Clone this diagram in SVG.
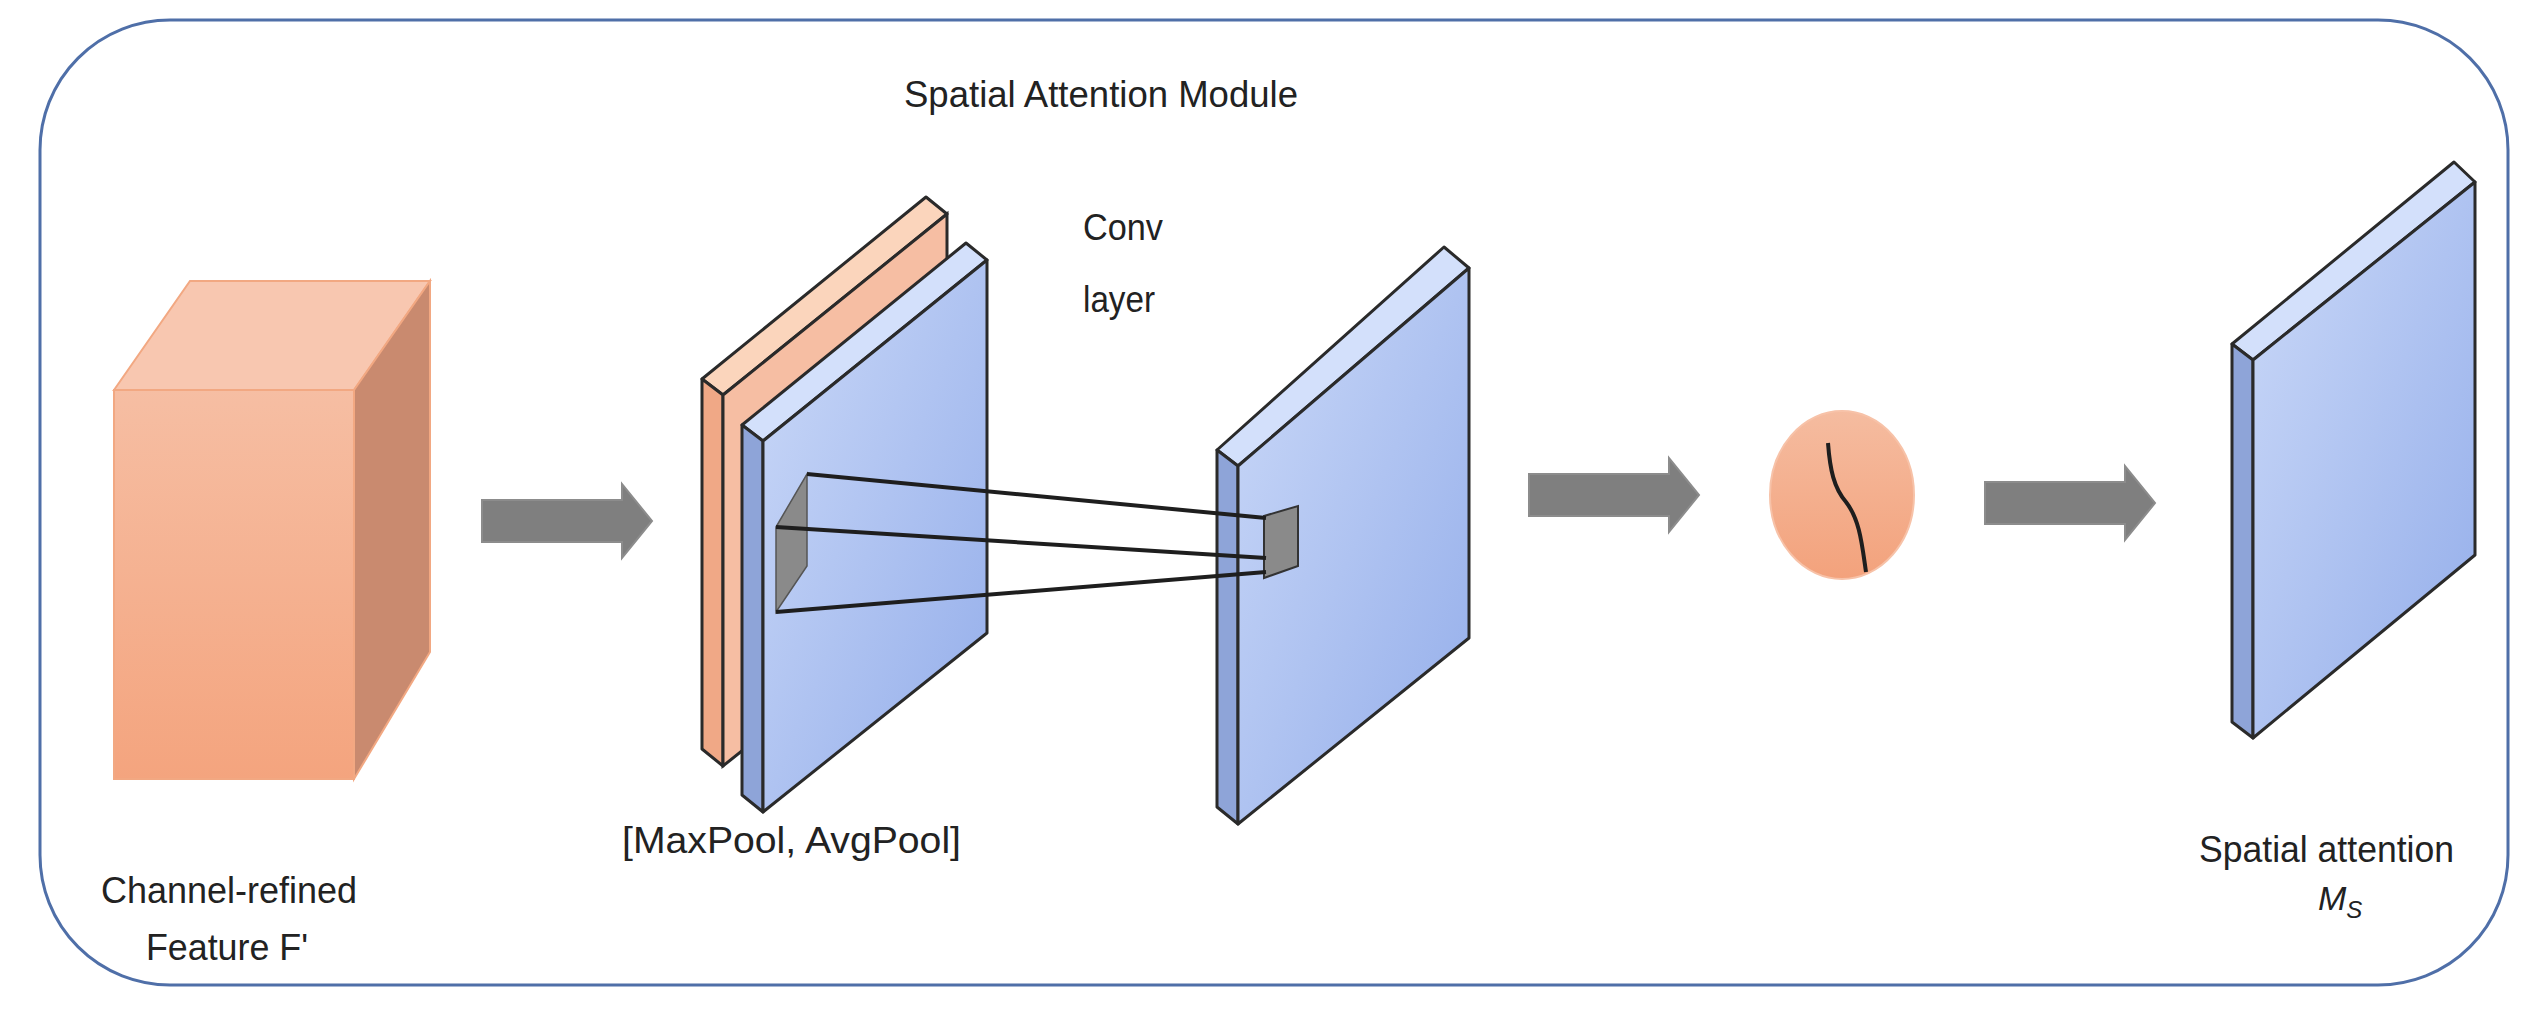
<svg xmlns="http://www.w3.org/2000/svg" width="2545" height="1010" viewBox="0 0 2545 1010">
<defs>
<linearGradient id="blue" x1="0" y1="0" x2="1" y2="1"><stop offset="0" stop-color="#cbd9f8"/><stop offset="1" stop-color="#93adea"/></linearGradient>
<linearGradient id="org" x1="0" y1="0" x2="0" y2="1"><stop offset="0" stop-color="#f6bea3"/><stop offset="1" stop-color="#f4a47e"/></linearGradient>
<linearGradient id="ell" x1="0" y1="0" x2="0" y2="1"><stop offset="0" stop-color="#f5bca0"/><stop offset="1" stop-color="#f3a27c"/></linearGradient>
<style>
.t{font-family:"Liberation Sans",Arial,sans-serif;font-size:37px;fill:#222}
.pf{fill:url(#blue);stroke:#2a2a2a;stroke-width:3;stroke-linejoin:round}
.ps{fill:#8ea4d8;stroke:#2a2a2a;stroke-width:3;stroke-linejoin:round}
.pt{fill:#d3e0fb;stroke:#2a2a2a;stroke-width:3;stroke-linejoin:round}
.arr{fill:#7f7f7f;stroke:#8c8c8c;stroke-width:2}
.ln{stroke:#1e1e1e;stroke-width:4;fill:none}
</style>
</defs>
<rect x="40" y="20" width="2468" height="965" rx="130" fill="#fff" stroke="#4f6fa8" stroke-width="3"/>
<text class="t" x="904" y="107" textLength="394" lengthAdjust="spacingAndGlyphs">Spatial Attention Module</text>

<g id="feature">
<polygon points="114,390 190,281 430,281 354,390" fill="#f8c7b0" stroke="#f2a882" stroke-width="2"/>
<polygon points="354,390 430,281 430,652 354,779" fill="#c98a6f" stroke="#f2a882" stroke-width="2"/>
<rect x="114" y="390" width="240" height="389" fill="url(#org)" stroke="#f2a882" stroke-width="2"/>
<text class="t" x="101" y="903" textLength="256" lengthAdjust="spacingAndGlyphs">Channel-refined</text>
<text class="t" x="146" y="960" textLength="162" lengthAdjust="spacingAndGlyphs">Feature F'</text>
</g>

<g id="pool">
<polygon points="702,379 926,197 947,214 723,395" fill="#fbd5bc" stroke="#2a2a2a" stroke-width="3" stroke-linejoin="round"/>
<polygon points="702,379 723,395 723,766 702,749" fill="#f0a886" stroke="#2a2a2a" stroke-width="3" stroke-linejoin="round"/>
<polygon points="723,395 947,214 947,587 723,766" fill="#f6bea3" stroke="#2a2a2a" stroke-width="3"/>
<polygon class="pt" points="742,425 966,243 987,260 763,441"/>
<polygon class="ps" points="742,425 763,441 763,812 742,795"/>
<polygon class="pf" points="763,441 987,260 987,633 763,812"/>
<polygon points="776,527 807,474 807,566 776,612" fill="#8a8a8a" stroke="#555" stroke-width="1.5"/>
<text class="t" x="622" y="853" textLength="339" lengthAdjust="spacingAndGlyphs">[MaxPool, AvgPool]</text>
</g>

<g id="conv">
<polygon class="pt" points="1217,450 1444,247 1469,268 1238,466"/>
<polygon class="ps" points="1217,450 1238,466 1238,824 1217,807"/>
<polygon class="pf" points="1238,466 1469,268 1469,638 1238,824"/>
<polygon points="1264,516 1298,506 1298,566 1264,578" fill="#8a8a8a" stroke="#333" stroke-width="2"/>
<text class="t" x="1083" y="240" textLength="80" lengthAdjust="spacingAndGlyphs">Conv</text>
<text class="t" x="1083" y="312" textLength="72" lengthAdjust="spacingAndGlyphs">layer</text>
</g>

<g id="sigmoid">
<ellipse cx="1842" cy="495" rx="72" ry="84" fill="url(#ell)" stroke="#f7c2a8" stroke-width="2"/>
<path d="M1828,443 C1830,470 1834,488 1846,502 C1860,520 1862,545 1866,572" stroke="#1e1e1e" stroke-width="4" fill="none"/>
</g>

<g id="output">
<polygon class="pt" points="2232,344 2454,162 2475,182 2253,360"/>
<polygon class="ps" points="2232,344 2253,360 2253,738 2232,722"/>
<polygon class="pf" points="2253,360 2475,182 2475,555 2253,738"/>
<text class="t" x="2199" y="862" textLength="255" lengthAdjust="spacingAndGlyphs">Spatial attention</text>
<text x="2318" y="910" font-family="Liberation Sans,Arial,sans-serif" font-size="34" font-style="italic" fill="#222">M<tspan font-size="24" dy="8">S</tspan></text>
</g>

<g id="connectors">
<polygon class="arr" points="482,500 622,500 622,484 652,521 622,558 622,542 482,542"/>
<polygon class="arr" points="1529,474 1669,474 1669,458 1699,495 1669,532 1669,516 1529,516"/>
<polygon class="arr" points="1985,482 2125,482 2125,466 2155,503 2125,540 2125,524 1985,524"/>
<line class="ln" x1="807" y1="474" x2="1266" y2="518"/>
<line class="ln" x1="776" y1="527" x2="1266" y2="558"/>
<line class="ln" x1="776" y1="612" x2="1266" y2="572"/>
</g>
</svg>
